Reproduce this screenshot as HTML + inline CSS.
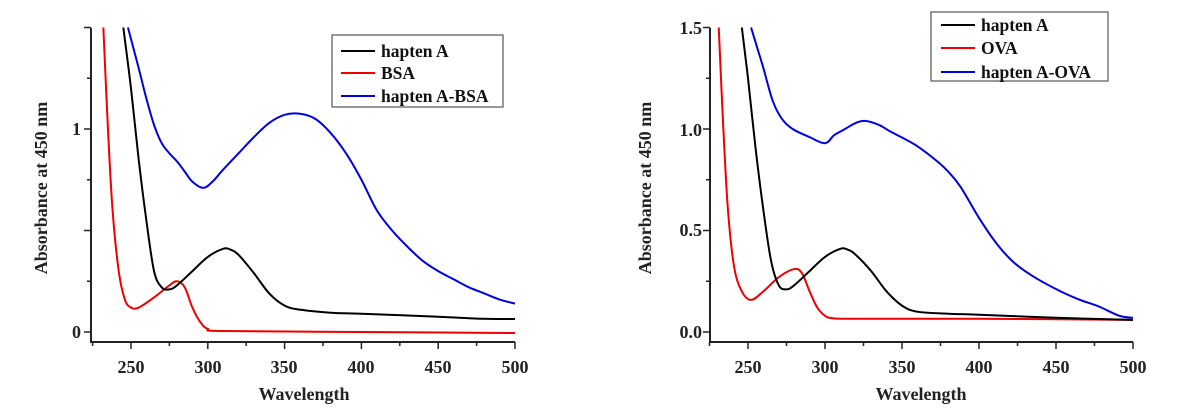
<!DOCTYPE html>
<html><head><meta charset="utf-8"><style>
html,body{margin:0;padding:0;background:#fff;}
svg{display:block;font-family:"Liberation Serif",serif;font-weight:bold;}
</style></head><body>
<svg id="s" width="1200" height="415" viewBox="0 0 1200 415" xmlns="http://www.w3.org/2000/svg">
<g stroke="#222" stroke-width="2" fill="none">
<line x1="91" y1="28" x2="91" y2="343"/>
<line x1="90" y1="342" x2="515" y2="342"/>
<line x1="710" y1="28" x2="710" y2="343"/>
<line x1="709" y1="342" x2="1133" y2="342"/>
</g>
<g id="ticks" stroke="#222" stroke-width="1.5"></g>
<g font-size="18" fill="#222" text-anchor="middle">
<text x="131" y="373">250</text><text x="208" y="373">300</text><text x="284" y="373">350</text><text x="361" y="373">400</text><text x="438" y="373">450</text><text x="515" y="373">500</text>
<text x="748" y="373">250</text><text x="825" y="373">300</text><text x="902" y="373">350</text><text x="979" y="373">400</text><text x="1056" y="373">450</text><text x="1133" y="373">500</text>
</g>
<g font-size="18" fill="#222" text-anchor="end">
<text x="81" y="338">0</text><text x="81" y="135">1</text>
<text x="702" y="338">0.0</text><text x="702" y="236">0.5</text><text x="702" y="136">1.0</text><text x="702" y="34">1.5</text>
</g>
<g font-size="18" fill="#222" text-anchor="middle">
<text x="304" y="400">Wavelength</text>
<text x="921" y="400">Wavelength</text>
<text transform="translate(47,188) rotate(-90)">Absorbance at 450 nm</text>
<text transform="translate(651,188) rotate(-90)">Absorbance at 450 nm</text>
</g>
<rect x="332" y="35" width="171" height="72" fill="#fff" stroke="#555" stroke-width="1.2"/>
<g stroke-width="2"><line x1="341" y1="51" x2="375" y2="51" stroke="#000"/><line x1="341" y1="73" x2="375" y2="73" stroke="#e00"/><line x1="341" y1="96" x2="375" y2="96" stroke="#00d"/></g>
<g font-size="17.5" fill="#111"><text x="381" y="57">hapten A</text><text x="381" y="79">BSA</text><text x="381" y="102">hapten A-BSA</text></g>
<rect x="931" y="12" width="177" height="69" fill="#fff" stroke="#555" stroke-width="1.2"/>
<g stroke-width="2"><line x1="941" y1="25" x2="975" y2="25" stroke="#000"/><line x1="941" y1="48" x2="975" y2="48" stroke="#e00"/><line x1="941" y1="72" x2="975" y2="72" stroke="#00d"/></g>
<g font-size="17.5" fill="#111"><text x="981" y="31">hapten A</text><text x="981" y="54">OVA</text><text x="981" y="78">hapten A-OVA</text></g>
<g id="curves" fill="none" stroke-width="2" stroke-linejoin="round"></g>
</svg>
<script>
const NS="http://www.w3.org/2000/svg";
function mk(ax,b0,pxPer50,y0,pxPerUnit){return [w=>ax+(w-b0)*pxPer50/50,a=>y0-a*pxPerUnit];}
const L=mk(131,250,76.8,332,203), R=mk(748,250,77,332,203);
const t=document.getElementById('ticks');
function line(x1,y1,x2,y2){const l=document.createElementNS(NS,'line');l.setAttribute('x1',x1);l.setAttribute('y1',y1);l.setAttribute('x2',x2);l.setAttribute('y2',y2);t.appendChild(l);}
[[L,91],[R,710]].forEach(([m,ax])=>{
 for(let w=225;w<=500;w+=25){const x=m[0](w);line(x,342,x,w%50==0?349:346);}
 for(let a=0;a<=1.5;a+=0.25){const y=m[1](a);line(ax,y,ax-(Math.abs(a*2-Math.round(a*2))<1e-6?7:4),y);}
});
const c=document.getElementById('curves');
function draw(m,pts,col){
 const p=document.createElementNS(NS,'path');
 const P=pts.map(q=>[m[0](q[0]),m[1](q[1])]);
 let d='M'+P[0][0]+','+P[0][1];
 for(let i=0;i<P.length-1;i++){const p0=P[Math.max(0,i-1)],p1=P[i],p2=P[i+1],p3=P[Math.min(P.length-1,i+2)];
  d+=` C${p1[0]+(p2[0]-p0[0])/6},${p1[1]+(p2[1]-p0[1])/6} ${p2[0]-(p3[0]-p1[0])/6},${p2[1]-(p3[1]-p1[1])/6} ${p2[0]},${p2[1]}`;}
 p.setAttribute('d',d);p.setAttribute('stroke',col);c.appendChild(p);}
const blackA=[[245,1.5],[250,1.2],[255,0.85],[260,0.55],[265,0.3],[270,0.22],[275,0.21],[280,0.23],[290,0.3],[300,0.37],[310,0.41],[315,0.405],[320,0.38],[330,0.29],[340,0.19],[350,0.13],[360,0.11],[380,0.095],[400,0.09],[450,0.075],[480,0.065],[500,0.064]];
draw(L,[[232,1.5],[235,1.0],[238,0.6],[242,0.3],[246,0.16],[250,0.12],[255,0.12],[265,0.17],[275,0.23],[280,0.25],[285,0.22],[290,0.12],[295,0.05],[300,0.015],[310,0.005],[400,0.0],[500,-0.005]],'#e00');
draw(L,blackA,'#000');
draw(L,[[248,1.5],[255,1.3],[260,1.15],[265,1.02],[270,0.93],[275,0.88],[280,0.84],[285,0.79],[290,0.74],[297,0.71],[303,0.74],[310,0.8],[320,0.88],[330,0.96],[340,1.03],[350,1.07],[360,1.075],[370,1.05],[380,0.98],[390,0.88],[400,0.75],[410,0.6],[420,0.5],[430,0.42],[440,0.35],[450,0.3],[460,0.26],[470,0.22],[480,0.19],[490,0.16],[500,0.14]],'#00d');
draw(R,[[231,1.5],[234,1.0],[237,0.6],[241,0.32],[246,0.2],[252,0.158],[260,0.2],[270,0.27],[280,0.31],[285,0.29],[290,0.2],[295,0.12],[300,0.08],[305,0.068],[320,0.065],[400,0.065],[500,0.06]],'#e00');
draw(R,[[246,1.5],[250,1.25],[255,0.9],[260,0.6],[265,0.35],[270,0.23],[275,0.21],[280,0.23],[290,0.3],[300,0.37],[310,0.41],[315,0.405],[320,0.38],[330,0.3],[340,0.2],[350,0.13],[360,0.1],[380,0.09],[400,0.085],[450,0.07],[500,0.06]],'#000');
draw(R,[[252,1.5],[256,1.4],[260,1.3],[266,1.14],[272,1.05],[279,1.0],[290,0.96],[300,0.93],[306,0.97],[313,1.0],[320,1.03],[326,1.04],[335,1.02],[343,0.985],[352,0.95],[361,0.91],[373,0.84],[380,0.79],[388,0.715],[401,0.55],[412,0.43],[423,0.34],[436,0.27],[453,0.2],[465,0.16],[478,0.125],[491,0.08],[500,0.07]],'#00d');
</script>
</body></html>
